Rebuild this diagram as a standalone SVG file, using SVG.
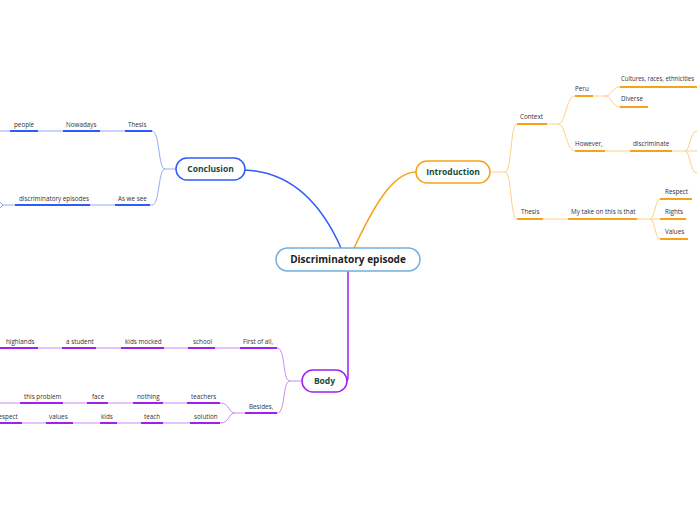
<svg xmlns="http://www.w3.org/2000/svg" width="697" height="520" viewBox="0 0 697 520">
<style>
text{font-family:"Open Sans","Noto Sans",sans-serif;font-size:6.3px;fill:#333}
.main{font-size:10px;font-weight:bold;fill:#222;text-anchor:middle}
.topic{font-size:8.5px;font-weight:bold;fill:#1a4a3a;text-anchor:middle}
.bl{stroke:#8fa9f8;fill:none;stroke-width:1}
.bu{stroke:#2e5cf6;stroke-width:2}
.ol{stroke:#fcd08a;fill:none;stroke-width:1}
.ou{stroke:#f7a21b;stroke-width:2}
.pl{stroke:#c98af6;fill:none;stroke-width:1}
.pu{stroke:#a020f0;stroke-width:2}
</style>
<rect width="697" height="520" fill="#fff"/>
<g id="connectors">
<path d="M341,248 C322,205 292,172 245,170" stroke="#2e5cf6" stroke-width="1.5" fill="none"/>
<path d="M354,248 C372,210 392,172 416,172" stroke="#f7a21b" stroke-width="1.5" fill="none"/>
<path d="M348,271 V375 Q348,381 347,381" stroke="#a020f0" stroke-width="1.5" fill="none"/>
<path class="bl" d="M176,169 H165 C158,169 160,131 152,131 H0 M165,169 C158,169 160,205 152,205 H3 L0,202 M3,205 L0,208"/>
<path class="ol" d="M490,172 H505 C512,172 510,124 517,124 H558 C566,124 566,96 575,96 H605 C612,96 612,87 620,87 H697 M605,96 C612,96 612,107 620,107 H648 M558,124 C566,124 566,151 575,151 H685 C690,151 690,131 697,131 M685,151 H697 M685,151 C690,151 690,173 697,173 M505,172 C512,172 510,219 517,219 H650 C655,219 655,199 660,199 H692 M650,219 H686 M650,219 C655,219 655,239 660,239 H688"/>
<path class="pl" d="M302,381 H290 C282,381 286,348 277,348 H0 M290,381 C282,381 286,413 277,413 H235 C228,413 230,403 220,403 H0 M235,413 C228,413 230,423 220,423 H0"/>
</g>
<g id="underlines">
<line class="bu" x1="125" y1="131" x2="152" y2="131"/><line class="bu" x1="63" y1="131" x2="100" y2="131"/><line class="bu" x1="10" y1="131" x2="38" y2="131"/>
<line class="bu" x1="115" y1="205" x2="150" y2="205"/><line class="bu" x1="15" y1="205" x2="90" y2="205"/>
<line class="ou" x1="517" y1="124" x2="547" y2="124"/><line class="ou" x1="575" y1="96" x2="593" y2="96"/><line class="ou" x1="575" y1="151" x2="605" y2="151"/>
<line class="ou" x1="620" y1="87" x2="697" y2="87"/><line class="ou" x1="620" y1="107" x2="648" y2="107"/><line class="ou" x1="630" y1="151" x2="672" y2="151"/>
<line class="ou" x1="517" y1="219" x2="543" y2="219"/><line class="ou" x1="568" y1="219" x2="637" y2="219"/>
<line class="ou" x1="660" y1="199" x2="692" y2="199"/><line class="ou" x1="660" y1="219" x2="686" y2="219"/><line class="ou" x1="660" y1="239" x2="688" y2="239"/>
<line class="pu" x1="240" y1="348" x2="277" y2="348"/><line class="pu" x1="188" y1="348" x2="215" y2="348"/><line class="pu" x1="121" y1="348" x2="164" y2="348"/><line class="pu" x1="62" y1="348" x2="96" y2="348"/><line class="pu" x1="0" y1="348" x2="38" y2="348"/>
<line class="pu" x1="245" y1="413" x2="277" y2="413"/>
<line class="pu" x1="187" y1="403" x2="220" y2="403"/><line class="pu" x1="133" y1="403" x2="163" y2="403"/><line class="pu" x1="87" y1="403" x2="108" y2="403"/><line class="pu" x1="20" y1="403" x2="63" y2="403"/>
<line class="pu" x1="190" y1="423" x2="220" y2="423"/><line class="pu" x1="141" y1="423" x2="163" y2="423"/><line class="pu" x1="100" y1="423" x2="117" y2="423"/><line class="pu" x1="46" y1="423" x2="73" y2="423"/><line class="pu" x1="0" y1="423" x2="22" y2="423"/>
</g>
<g id="central"><rect x="276" y="248" width="144" height="23" rx="11.5" fill="#fff" stroke="#6fb0e0" stroke-width="1.5"/><text class="main" x="348" y="263">Discriminatory episode</text></g>
<g id="conclusion"><rect x="176" y="158" width="69" height="22" rx="11" fill="#fff" stroke="#2e5cf6" stroke-width="1.5"/><text class="topic" x="210.5" y="172">Conclusion</text></g>
<g id="introduction"><rect x="416" y="161" width="74" height="22" rx="11" fill="#fff" stroke="#f7a21b" stroke-width="1.5"/><text class="topic" x="453" y="175">Introduction</text></g>
<g id="body"><rect x="302" y="370" width="45" height="22" rx="11" fill="#fff" stroke="#a020f0" stroke-width="1.5"/><text class="topic" x="324.5" y="384">Body</text></g>
<g id="labels">
<text x="128" y="127">Thesis</text><text x="66" y="127">Nowadays</text><text x="14" y="127">people</text>
<text x="118" y="201">As we see</text><text x="19" y="201">discriminatory episodes</text>
<text x="520" y="119">Context</text><text x="575" y="91">Peru</text><text x="621" y="81" textLength="73" lengthAdjust="spacingAndGlyphs">Cultures, races, ethnicities</text><text x="621" y="101">Diverse</text>
<text x="575" y="146">However,</text><text x="633" y="146">discriminate</text>
<text x="521" y="214">Thesis</text><text x="571" y="214">My take on this is that</text>
<text x="665" y="194">Respect</text><text x="665" y="214">Rights</text><text x="665" y="234">Values</text>
<text x="243" y="344">First of all,</text><text x="193" y="344">school</text><text x="125" y="344">kids mocked</text><text x="66" y="344">a student</text><text x="6" y="344">highlands</text>
<text x="249" y="409">Besides,</text>
<text x="191" y="399">teachers</text><text x="137" y="399">nothing</text><text x="92" y="399">face</text><text x="24" y="399">this problem</text>
<text x="194" y="419">solution</text><text x="144" y="419">teach</text><text x="101" y="419">kids</text><text x="49" y="419">values</text><text x="-4" y="419">respect</text>
</g>
</svg>
